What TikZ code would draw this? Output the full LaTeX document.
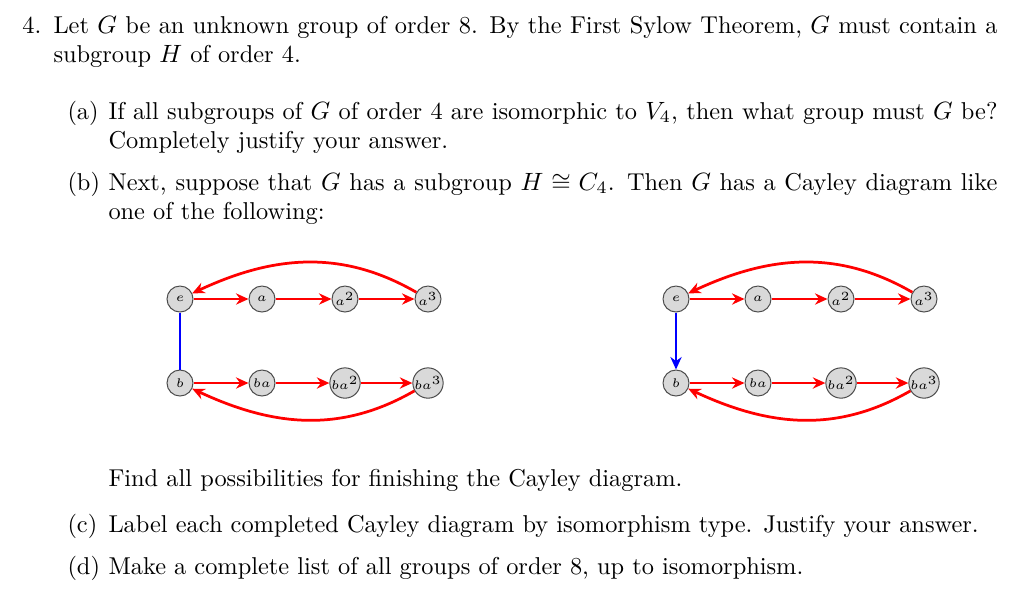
\documentclass[tikz,border=0pt]{standalone}
\usetikzlibrary{arrows.meta}
\begin{document}
\begin{tikzpicture}[x=0.4pt,y=-0.4pt,
  v/.style={circle,draw=black!70,fill=black!15,line width=0.4pt,minimum size=10.4pt,inner sep=0pt,font=\tiny},
  ra/.style={red,line width=1.1pt,-{Stealth[length=5pt,width=4.5pt]}},
  bl/.style={blue,line width=1.1pt},
  tx/.style={anchor=base west,inner sep=0pt,font=\fontsize{9.75}{12}\selectfont}]
\useasboundingbox (0,0) rectangle (1024,596);
\node[tx] (n4) at (22,33) {4.};
\node[tx] (l1) at (53,33) {\hbox to 377.6pt{Let $G$ be an unknown group of order 8. By the First Sylow Theorem, $G$ must contain a}};
\node[tx] (l2) at (53,62) {subgroup $H$ of order 4.};
\node[tx] (pa) at (67,119) {(a)};
\node[tx] (a1) at (108,119) {\hbox to 355.6pt{If all subgroups of $G$ of order 4 are isomorphic to $V_4$, then what group must $G$ be?}};
\node[tx] (a2) at (108,148) {Completely justify your answer.};
\node[tx] (pb) at (67,190) {(b)};
\node[tx] (b1) at (108,190) {\hbox to 355.6pt{Next, suppose that $G$ has a subgroup $H\cong C_4$. Then $G$ has a Cayley diagram like}};
\node[tx] (b2) at (108,219) {one of the following:};
\node[tx] (f1) at (108,486) {Find all possibilities for finishing the Cayley diagram.};
\node[tx] (pc) at (67,532) {(c)};
\node[tx] (c1) at (108,532) {Label each completed Cayley diagram by isomorphism type. Justify your answer.};
\node[tx] (pd) at (67,574) {(d)};
\node[tx] (d1) at (108,574) {Make a complete list of all groups of order 8, up to isomorphism.};
\foreach \p/\ox/\tip in {L/180/-, R/676/{-{Stealth[length=5pt,width=4.5pt]}}}{
  \node[v] (\p e) at (\ox,299) {$e$};
  \node[v] (\p a) at (\ox+82,299) {$a$};
  \node[v] (\p aa) at (\ox+165,299) {$a^2$};
  \node[v] (\p aaa) at (\ox+248,299) {$a^3$};
  \node[v] (\p b) at (\ox,383) {$b$};
  \node[v] (\p ba) at (\ox+82,383) {$ba$};
  \node[v] (\p baa) at (\ox+165,383) {$ba^2$};
  \node[v] (\p baaa) at (\ox+248,383) {$ba^3$};
  \draw[ra] (\p e) -- (\p a);
  \draw[ra] (\p a) -- (\p aa);
  \draw[ra] (\p aa) -- (\p aaa);
  \draw[ra] (\p b) -- (\p ba);
  \draw[ra] (\p ba) -- (\p baa);
  \draw[ra] (\p baa) -- (\p baaa);
  \draw[ra] (\p aaa) to[out=150,in=25] (\p e);
  \draw[ra] (\p baaa) to[out=-150,in=-25] (\p b);
  \draw[bl,\tip] (\p e) -- (\p b);
}
\end{tikzpicture}
\end{document}
